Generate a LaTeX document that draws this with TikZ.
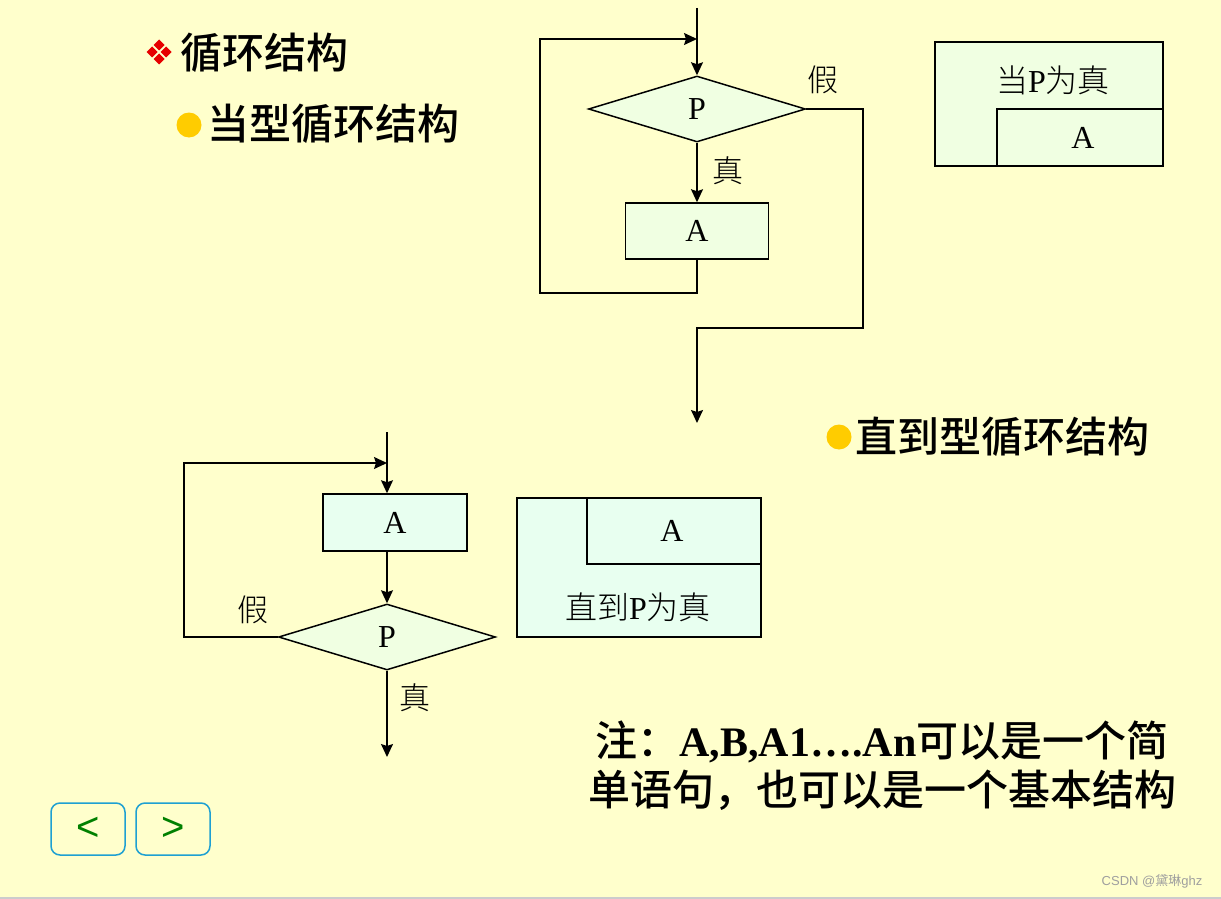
\documentclass[tikz,border=0pt]{standalone}
\usepackage{fontspec}
\setmainfont{Liberation Serif}
\newfontfamily\cjkfont{Noto Sans CJK SC}
\newfontfamily\cjkmed{Noto Sans CJK SC Medium}
\newfontfamily\cjklight{Noto Sans CJK SC Light}
\newfontfamily\uifont{Liberation Sans}
\usetikzlibrary{shapes.geometric,arrows.meta}
\definecolor{slidebg}{RGB}{255,255,204}
\definecolor{boxfill}{RGB}{240,255,226}
\definecolor{boxfilltwo}{RGB}{232,255,240}
\definecolor{bulletred}{RGB}{230,0,0}
\definecolor{bulletyellow}{RGB}{255,204,0}
\definecolor{btnblue}{RGB}{30,160,210}
\definecolor{btngreen}{RGB}{0,128,0}

\begin{document}
\begin{tikzpicture}[x=1pt, y=-1pt,
	flow/.style={line width=1.5pt, -{Stealth[length=13pt,width=12pt,inset=2pt]}},
	link/.style={line width=1.5pt},
	proc/.style={draw, line width=1.5pt, fill=boxfill, minimum width=143pt, minimum height=56pt, inner sep=0pt, font=\fontsize{32}{36}\selectfont},
	decide/.style={draw, diamond, line width=1.5pt, fill=boxfill, minimum width=217pt, minimum height=66pt, inner sep=0pt, font=\fontsize{32}{36}\selectfont},
	nsbox/.style={draw, line width=1.5pt, inner sep=0pt},
	nstext/.style={font=\fontsize{32}{36}\selectfont},
	lbl/.style={font=\fontsize{31}{34}\selectfont\cjklight},
	head/.style={anchor=west, inner sep=0pt, font=\fontsize{42}{48}\selectfont\cjkmed},
	btn/.style={draw=btnblue, line width=1.5pt, rounded corners=9pt, minimum width=74pt, minimum height=52pt, text=btngreen, font=\fontsize{40}{40}\selectfont\uifont}]

		\useasboundingbox (0,0) rectangle (1221,899);
		\fill[slidebg] (0,0) rectangle (1221,899);
		\draw[gray!40, line width=2pt] (0,897.5) -- (1221,897.5);

		% Headings
		\foreach \dx/\dy in {-7/0,7/0,0/-7,0/7}
			\fill[bulletred] (159+\dx,52+\dy) +(-5.5,0) -- +(0,-5.5) -- +(5.5,0) -- +(0,5.5) -- cycle;
		\node[head] (title) at (180,53) {循环结构};
		\fill[bulletyellow] (189,125) circle (12.5);
		\node[head] (whilehead) at (207,124) {当型循环结构};
		\fill[bulletyellow] (839,437) circle (12.5);
		\node[head] (untilhead) at (855,437) {直到型循环结构};

		% While loop: flowchart
		\coordinate (in1) at (697,8);
		\node[decide] (p1) at (697,109) {P};
		\node[proc] (a1) at (697,231) {A};
		\coordinate (join1) at (697,39);
		\coordinate (back1) at (540,293);
		\coordinate (exit1) at (863,109);
		\coordinate (drop1) at (697,328);
		\coordinate (out1) at (697,423);
		\draw[flow] (in1) -- (p1.north);
		\draw[flow] (p1.south) -- (a1.north);
		\draw[flow] (a1.south) |- (back1) |- (join1);
		\draw[flow] (p1.east) -- (exit1) |- (drop1) -- (out1);
		\node[lbl] (true1) at (728,171) {真};
		\node[lbl] (false1) at (823,80) {假};

		% While loop: N-S box
		\node[nsbox, fill=boxfill, minimum width=228pt, minimum height=124pt] (ns1) at (1049,104) {};
		\draw[link] (997,166) |- (1163,109);
		\node[nstext] (ns1cond) at (1053,80) {{\cjklight 当}P{\cjklight 为真}};
		\node[nstext] (ns1body) at (1083,138) {A};

		% Until loop: flowchart
		\coordinate (in2) at (387,432);
		\node[proc, fill=boxfilltwo, minimum height=57pt, minimum width=144pt] (a2) at (395,522.5) {A};
		\node[decide] (p2) at (387,637) {P};
		\coordinate (join2) at (387,463);
		\coordinate (back2) at (184,637);
		\coordinate (out2) at (387,757);
		\draw[flow] (in2) -- (in2 |- a2.north);
		\draw[flow] (in2 |- a2.south) -- (p2.north);
		\draw[flow] (p2.west) -- (back2) |- (join2);
		\draw[flow] (p2.south) -- (out2);
		\node[lbl] (false2) at (253,610) {假};
		\node[lbl] (true2) at (415,698) {真};

		% Until loop: N-S box
		\node[nsbox, fill=boxfilltwo, minimum width=244pt, minimum height=139pt] (ns2) at (639,567.5) {};
		\draw[link] (587,498) |- (761,564);
		\node[nstext] (ns2body) at (672,531) {A};
		\node[nstext] (ns2cond) at (638,607) {{\cjklight 直到}P{\cjklight 为真}};

		% Note
		\node[align=center, font=\fontsize{42}{49}\selectfont\cjkmed] (note) at (882,766)
			{注：{\rmfamily\bfseries A,B,A1….An}可以是一个简\\单语句，也可以是一个基本结构};

		% Buttons and mark
		\node[btn] (prev) at (88,829) {<};
		\node[btn] (next) at (173,829) {>};
		\node[text=gray!75, font=\fontsize{13}{15}\selectfont\uifont] (mark) at (1152,881) {CSDN @{\cjkfont 黛琳}ghz};
	\end{tikzpicture}
\end{document}
